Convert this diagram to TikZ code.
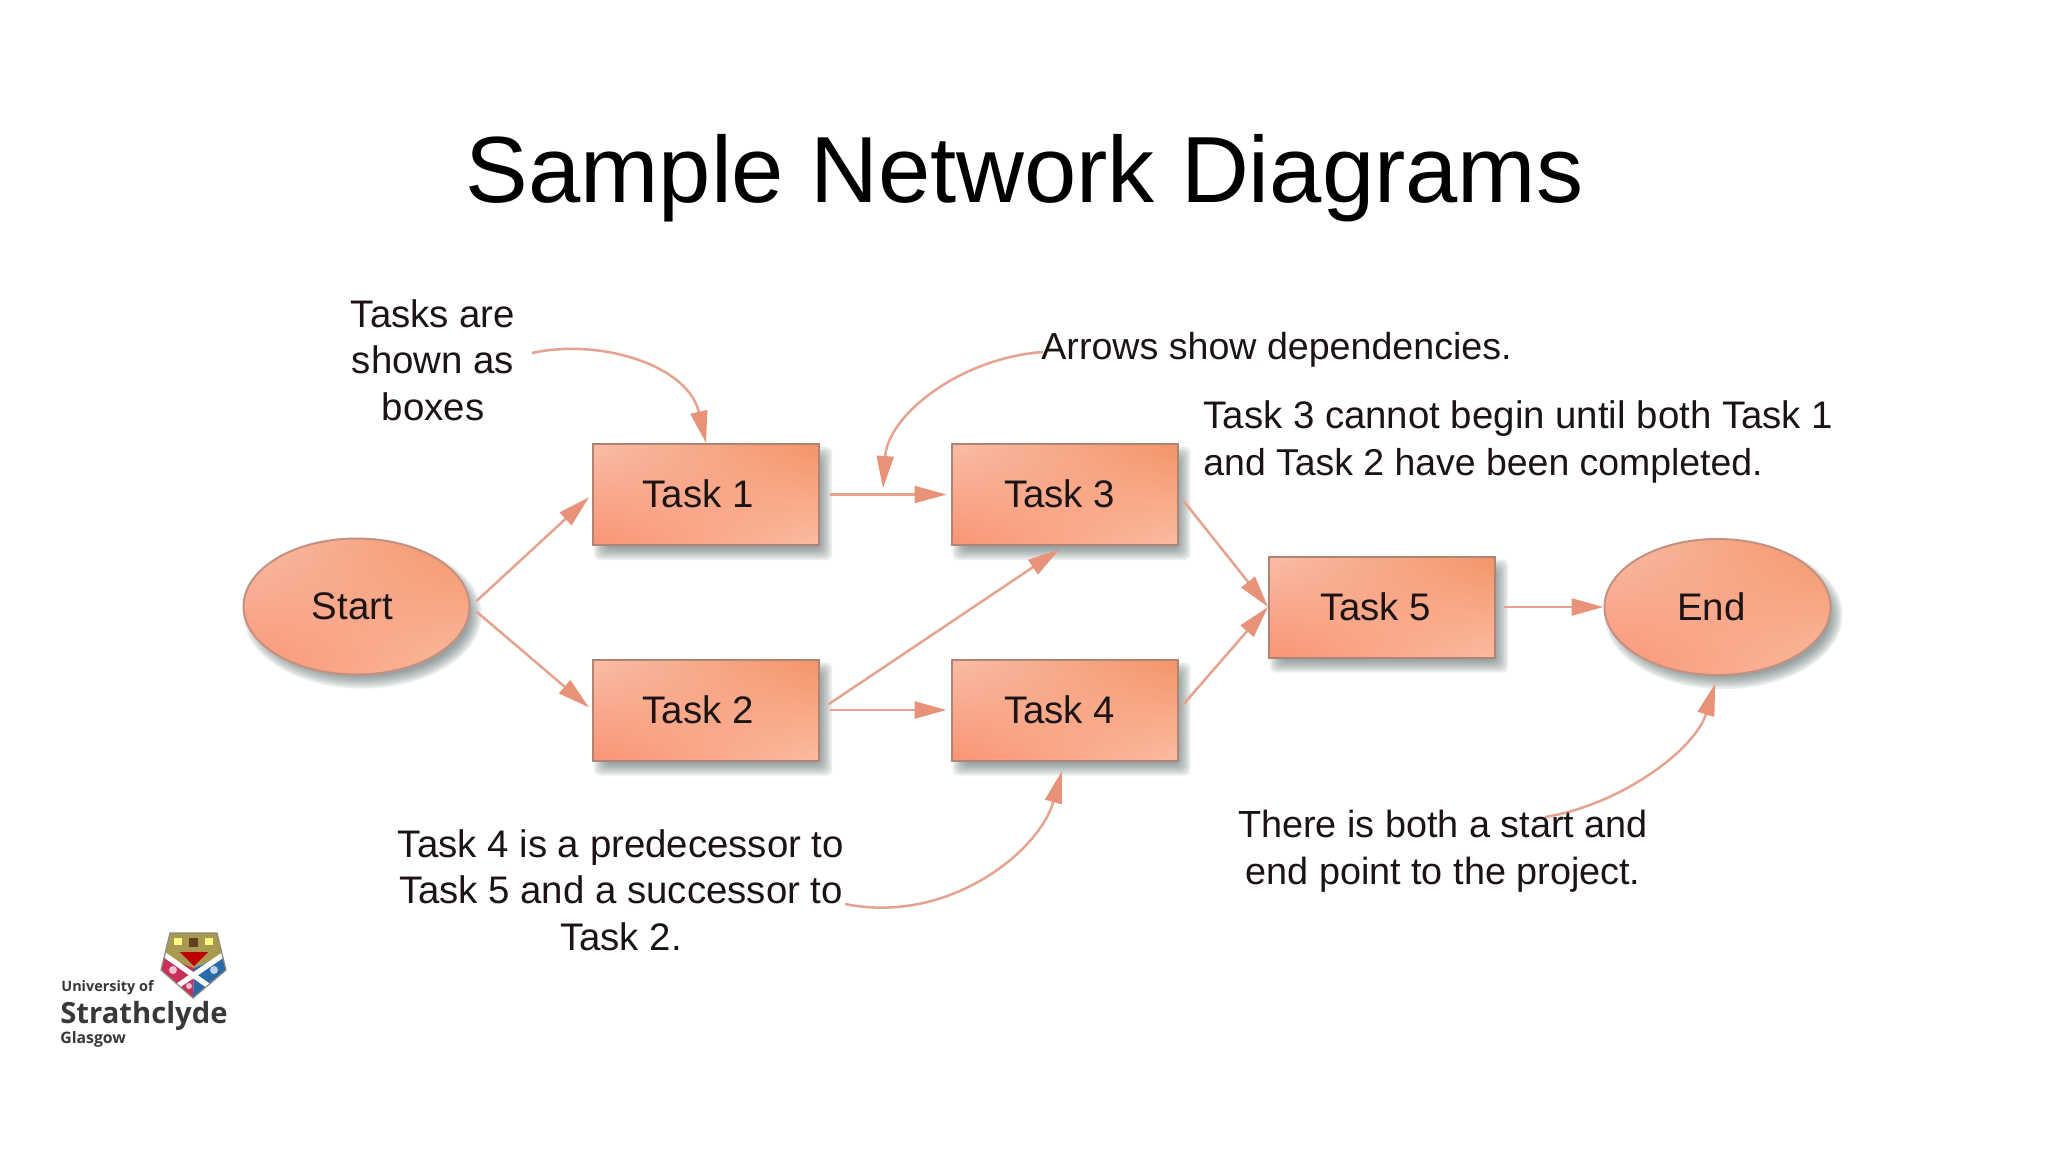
\documentclass[tikz,border=0pt]{standalone}
\usepackage{fontspec}
\setmainfont{Liberation Sans}
\newfontfamily\logofont{Open Sans}
\usetikzlibrary{arrows.meta,shapes.geometric,shadings}
\definecolor{linecol}{HTML}{E6A490}
\definecolor{headcol}{HTML}{E8927A}
\definecolor{edgecol}{HTML}{B08472}
\definecolor{elledge}{HTML}{C49080}
\definecolor{shadowcol}{HTML}{5A6A6A}
\definecolor{txtcol}{HTML}{1C1414}
\definecolor{ulc}{HTML}{F9BDA8}
\definecolor{urc}{HTML}{F39468}
\definecolor{llc}{HTML}{F99474}
\definecolor{lrc}{HTML}{FBBCA2}
\definecolor{shieldred}{HTML}{C8305A}
\definecolor{shieldblue}{HTML}{2A6AA8}
\definecolor{shieldgold}{HTML}{A89A50}
\definecolor{shieldedge}{HTML}{8A8A80}
\tikzset{
  labeltext/.style={font=\fontsize{19.2}{23.25}\selectfont,text=txtcol,inner sep=0pt},
  notetext/.style={labeltext,anchor=base,align=center},
  notetextleft/.style={labeltext,anchor=base west,align=left},
  nodefill/.style={draw=edgecol,line width=1pt,inner sep=0pt,
    upper left=ulc,upper right=urc,lower left=llc,lower right=lrc,
    labeltext,text height=13pt,text depth=0pt},
  taskbox/.style={nodefill,rectangle,minimum width=113pt,minimum height=50.5pt},
  endbox/.style={nodefill,draw=elledge,ellipse,minimum width=113pt,minimum height=68pt},
  dep/.style={draw=linecol,line width=1.25pt,-{Triangle[length=16pt,width=8.5pt,color=headcol]}},
  softshadow/.style={fill=shadowcol,draw=none,opacity=0.12},
  logotext/.style={text=black!78,inner sep=0pt,anchor=base west},
}
\newcommand{\boxshadow}[2]{%
  \foreach \r in {-6,-4,...,6}{%
    \fill[softshadow,rounded corners=3pt] ({#1-113+7-\r},{#2-50.5+9-\r}) rectangle ({#1+113+7+\r},{#2+50.5+9+\r});}}
\newcommand{\ellshadow}[2]{%
  \foreach \r in {-6,-4,...,6}{%
    \fill[softshadow] ({#1+6},{#2+8}) ellipse [x radius={113+\r},y radius={68+\r}];}}
\begin{document}
\begin{tikzpicture}[x=0.5pt,y=-0.5pt]
\useasboundingbox (0,0) rectangle (2048,1152);
\fill[white] (0,0) rectangle (2048,1152);
% title
\node[anchor=base,inner sep=0pt,font=\fontsize{47}{56}\selectfont] (title) at (1024.5,202) {Sample Network Diagrams};
% shadows
\boxshadow{706}{494.5}\boxshadow{1064.5}{494.5}\boxshadow{706}{710}\boxshadow{1064.5}{710}\boxshadow{1382}{607}
\ellshadow{356.5}{606.5}\ellshadow{1717.5}{607}
% nodes
\node[taskbox] (t1) at (706,494.5) {Task 1\kern8pt};
\node[taskbox] (t3) at (1064.5,494.5) {Task 3\kern5pt};
\node[taskbox] (t2) at (706,710) {Task 2\kern8pt};
\node[taskbox] (t4) at (1064.5,710) {Task 4\kern5pt};
\node[taskbox] (t5) at (1382,607) {Task 5\kern6.5pt};
\node[endbox] (start) at (356.5,606.5) {Start\kern4pt};
\node[endbox] (end) at (1717.5,607) {End\kern6pt};
% free ends
\coordinate (n1s) at (532,353);
\coordinate (n2s) at (1043,352);
\coordinate (n2e) at (883,488);
\coordinate (n3s) at (1545,817);
\coordinate (n4s) at (845,904);
% connectors
\draw[dep,shorten <=4pt,shorten >=2pt] (start.east) -- (t1.west);
\draw[dep,shorten <=4pt,shorten >=2pt] (start.east) -- (t2.west);
\draw[dep,shorten <=5pt,shorten >=2pt] (t1.east) -- (t3.west);
\draw[dep,shorten <=5pt,shorten >=2pt] (t2.east) -- (t4.west);
\draw[dep,shorten <=5pt,shorten >=3pt] (t2.east) -- (t3.south);
\draw[dep,shorten <=3pt,shorten >=0pt] (t3.east) -- (t5.west);
\draw[dep,shorten <=3pt,shorten >=0pt] (t4.east) -- (t5.west);
\draw[dep,shorten <=4pt,shorten >=0pt] (t5.east) -- (end.west);
\draw[dep] (n1s) .. controls (600,338) and (688,365) .. (t1.north);
\draw[dep] (n2s) .. controls (960,358) and (888,415) .. (n2e);
\draw[dep,shorten >=4pt] (n3s) .. controls (1620,805) and (1695,750) .. (end.south);
\draw[dep,shorten >=5pt] (n4s) .. controls (950,925) and (1040,850) .. (t4.south);
% notes
\node[notetext] (note1) at (433,420) {Tasks are\\shown as\\boxes};
\node[notetextleft,font=\fontsize{18.8}{23.25}\selectfont] (note2) at (1041,359) {Arrows show dependencies.};
\node[notetextleft] (note3) at (1203,475) {Task 3 cannot begin until both Task 1\\{\fontsize{18.7}{23.25}\selectfont and Task 2 have been completed.}};
\node[notetext] (note4) at (621,950) {Task 4 is a predecessor to\\Task 5 and a successor to\\Task 2.};
\node[notetext,font=\fontsize{18.9}{23.25}\selectfont] (note5) at (1443,884) {There is both a start and\\end point to the project.};
% logo shield
\fill[white] (170,933) -- (217,933) -- (226,970) -- (193,998) -- (161,970) -- cycle;
\begin{scope}
\clip (170,933) -- (217,933) -- (226,970) -- (193,998) -- (161,970) -- cycle;
\fill[shieldgold] (170,933) -- (217,933) -- (226,955) -- (194,968) -- (162,955) -- cycle;
\fill[red!75!black] (180,952) -- (208,952) -- (194,966) -- cycle;
\fill[yellow!50!white] (174,938) rectangle (182,945);
\fill[black!50!brown] (189,938) rectangle (198,947);
\fill[yellow!50!white] (205,938) rectangle (213,945);
\fill[shieldred] (161,955) -- (194,968) -- (178,985) -- (158,970) -- cycle;
\fill[shieldblue] (227,955) -- (228,970) -- (210,985) -- (194,968) -- cycle;
\fill[shieldred] (194,968) -- (176,985) -- (193,999) -- cycle;
\fill[shieldblue] (194,968) -- (211,985) -- (193,999) -- cycle;
\fill[white!70!shieldred] (173,970) circle (4);
\fill[white!70!shieldblue] (214,970) circle (4);
\fill[white!70!shieldred] (189,986) circle (3);
\draw[white,line width=2.6pt] (162,953) -- (210,987);
\draw[white,line width=2.6pt] (226,953) -- (176,987);
\end{scope}
\draw[shieldedge,line width=0.6pt] (170,933) -- (217,933) -- (226,970) -- (193,998) -- (161,970) -- cycle;
% logo text
\node[logotext,font=\logofont\bfseries\fontsize{7.2}{9}\selectfont] (logo1) at (61,991) {University of};
\node[logotext,font=\logofont\bfseries\fontsize{14.6}{16}\selectfont] (logo2) at (60,1023) {Strathclyde};
\node[logotext,font=\logofont\bfseries\fontsize{7.9}{9}\selectfont] (logo3) at (60,1043) {Glasgow};
\end{tikzpicture}
\end{document}
